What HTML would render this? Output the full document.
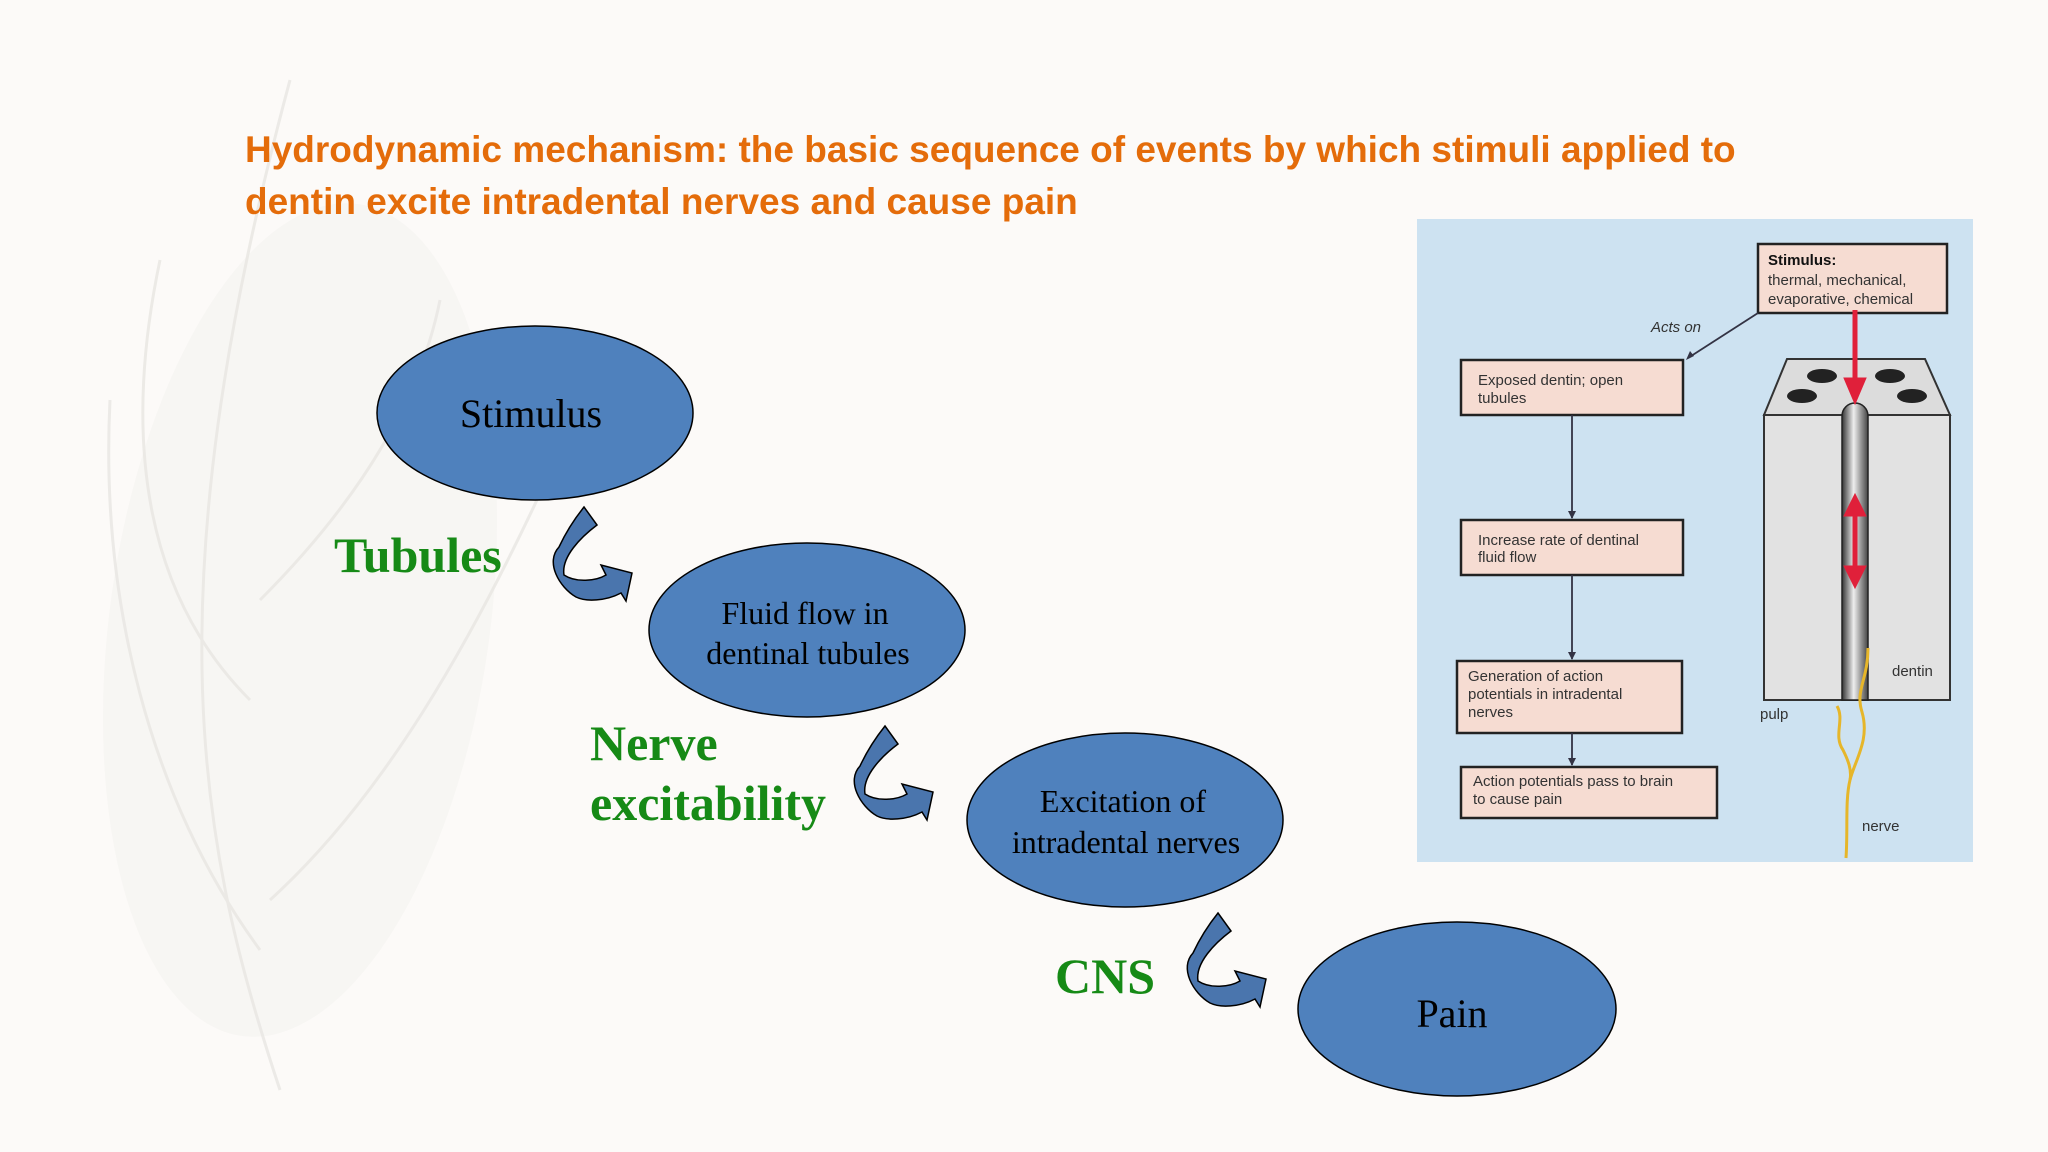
<!DOCTYPE html>
<html><head><meta charset="utf-8"><style>
html,body{margin:0;padding:0}
body{width:2048px;height:1152px;background:#fcfaf8;position:relative;overflow:hidden;font-family:"Liberation Sans",sans-serif}
.t{position:absolute}
</style></head><body>
<svg width="2048" height="1152" style="position:absolute;left:0;top:0">
<defs>
<linearGradient id="tube" x1="0" x2="1">
<stop offset="0" stop-color="#333"/><stop offset="0.45" stop-color="#eee"/><stop offset="1" stop-color="#444"/>
</linearGradient>
<path id="arr" d="M33,0 L46,18 C30,30 10,50 13,68 C25,76 45,74 55,68 L50,58 L81,66 L75,94 L70,86 C55,94 35,95 25,90 C8,80 -6,55 8,40 C15,25 25,10 33,0 Z" fill="#4a75ad" stroke="#000" stroke-width="1.5"/>
</defs>
<g opacity="0.3" fill="none" stroke="#c8c8c0" stroke-width="3">
<path d="M280,1090 C200,850 150,600 290,80"/>
<path d="M260,950 C150,800 100,600 110,400"/>
<path d="M270,900 C380,800 470,650 560,450"/>
<path d="M250,700 C150,600 120,450 160,260"/>
<path d="M260,600 C360,500 420,400 440,300"/>
</g>
<ellipse cx="300" cy="620" rx="190" ry="420" fill="#e8e8e2" opacity="0.22" transform="rotate(8 300 620)"/>
<g fill="#4f81bd" stroke="#000" stroke-width="1.5">
<ellipse cx="535" cy="413" rx="158" ry="87"/>
<ellipse cx="807" cy="630" rx="158" ry="87"/>
<ellipse cx="1125" cy="820" rx="158" ry="87"/>
<ellipse cx="1457" cy="1009" rx="159" ry="87"/>
</g>
<use href="#arr" x="551" y="507"/>
<use href="#arr" x="852" y="726"/>
<use href="#arr" x="1185" y="913"/>
<g font-family="Liberation Serif,serif" text-anchor="middle" fill="#000">
<text x="531" y="427" font-size="40">Stimulus</text>
<text x="805" y="624" font-size="32">Fluid flow in</text>
<text x="808" y="664" font-size="32">dentinal tubules</text>
<text x="1123" y="812" font-size="32">Excitation of</text>
<text x="1126" y="853" font-size="32">intradental nerves</text>
<text x="1452" y="1027" font-size="40">Pain</text>
</g>
<g font-family="Liberation Serif,serif" font-weight="bold" fill="#168a16" font-size="50">
<text x="334" y="572">Tubules</text>
<text x="590" y="760">Nerve</text>
<text x="590" y="820">excitability</text>
<text x="1055" y="993">CNS</text>
</g>
<rect x="1417" y="219" width="556" height="643" fill="#cde2f1"/>
<g fill="#f6dcd2" stroke="#222" stroke-width="2.5">
<rect x="1758" y="244" width="189" height="69"/>
<rect x="1461" y="360" width="222" height="55"/>
<rect x="1461" y="520" width="222" height="55"/>
<rect x="1457" y="661" width="225" height="72"/>
<rect x="1461" y="767" width="256" height="51"/>
</g>
<g stroke="#334" stroke-width="1.8">
<line x1="1758" y1="313" x2="1688" y2="358"/>
<line x1="1572" y1="415" x2="1572" y2="518"/>
<line x1="1572" y1="575" x2="1572" y2="659"/>
<line x1="1572" y1="733" x2="1572" y2="765"/>
</g>
<g fill="#334">
<polygon points="1568,511 1576,511 1572,519"/>
<polygon points="1568,652 1576,652 1572,660"/>
<polygon points="1568,758 1576,758 1572,766"/>
<polygon points="1686,360 1690,351 1694,356"/>
</g>
<polygon points="1764,415 1787,359 1925,359 1950,415" fill="#dcdcdc" stroke="#333" stroke-width="2"/>
<rect x="1764" y="415" width="186" height="285" fill="#e2e2e2" stroke="#333" stroke-width="2"/>
<g fill="#222"><ellipse cx="1822" cy="376" rx="15" ry="7"/><ellipse cx="1890" cy="376" rx="15" ry="7"/><ellipse cx="1802" cy="396" rx="15" ry="7"/><ellipse cx="1912" cy="396" rx="15" ry="7"/></g>
<path d="M1842,700 L1842,416 A13,13 0 0 1 1868,416 L1868,700 Z" fill="url(#tube)" stroke="#222" stroke-width="1.5"/>
<g fill="#e0203a" stroke="#e0203a">
<line x1="1855" y1="310" x2="1855" y2="380" stroke-width="5"/>
<polygon points="1844,378 1866,378 1855,404"/>
<line x1="1855" y1="510" x2="1855" y2="570" stroke-width="5"/>
<polygon points="1844,516 1866,516 1855,494"/>
<polygon points="1844,566 1866,566 1855,588"/>
</g>
<g fill="none" stroke="#e6b62a" stroke-width="3">
<path d="M1868,648 C1868,680 1855,690 1862,712 C1870,740 1855,760 1850,780 C1845,800 1848,830 1846,858"/>
<path d="M1837,706 C1845,720 1833,735 1843,750 C1848,760 1852,770 1850,780"/>
</g>
<g font-size="15" fill="#333" font-family="Liberation Sans,sans-serif">
<text x="1768" y="265" font-weight="bold" fill="#111">Stimulus:</text>
<text x="1768" y="285">thermal, mechanical,</text>
<text x="1768" y="304">evaporative, chemical</text>
<text x="1651" y="332" font-style="italic">Acts on</text>
<text x="1478" y="385">Exposed dentin; open</text>
<text x="1478" y="403">tubules</text>
<text x="1478" y="545">Increase rate of dentinal</text>
<text x="1478" y="562">fluid flow</text>
<text x="1468" y="681">Generation of action</text>
<text x="1468" y="699">potentials in intradental</text>
<text x="1468" y="717">nerves</text>
<text x="1473" y="786">Action potentials pass to brain</text>
<text x="1473" y="804">to cause pain</text>
<text x="1892" y="676">dentin</text>
<text x="1760" y="719">pulp</text>
<text x="1862" y="831">nerve</text>
</g>
</svg>
<div class="t" style="left:245px;top:124px;font-size:37px;font-weight:bold;color:#e46c0a;line-height:52px;width:1600px">Hydrodynamic mechanism: the basic sequence of events by which stimuli applied to<br>dentin excite intradental nerves and cause pain</div>
</body></html>
